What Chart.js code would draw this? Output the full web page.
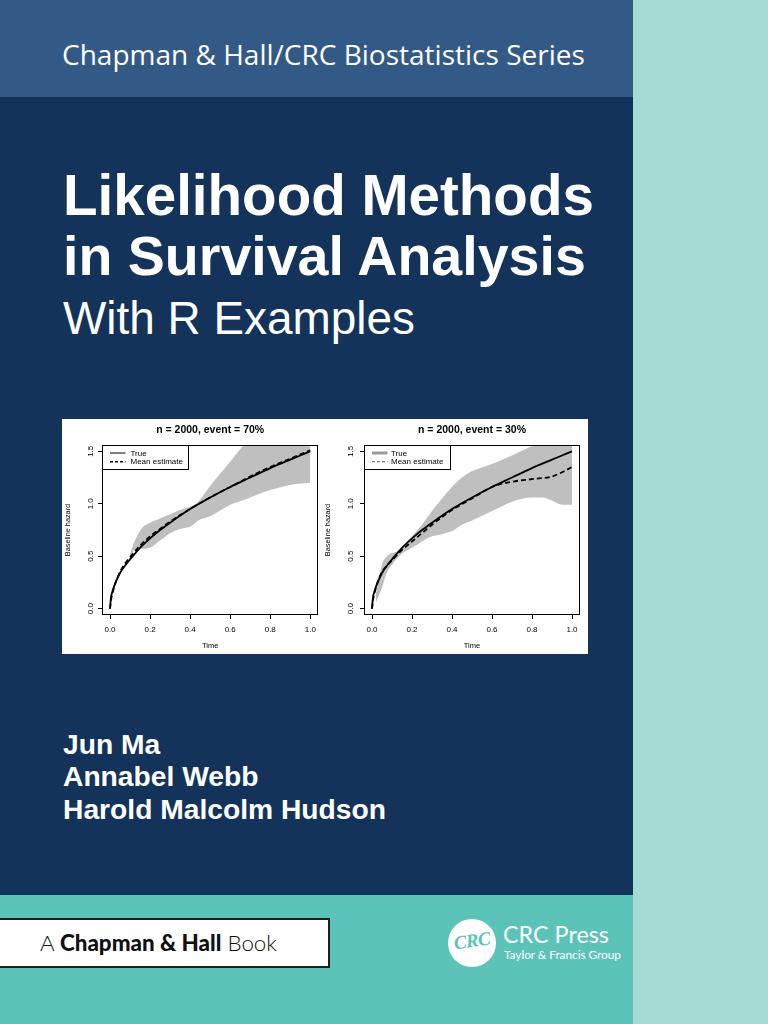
<!DOCTYPE html>
<html><head><meta charset="utf-8">
<script src="https://cdn.jsdelivr.net/npm/chart.js@4.4.0/dist/chart.umd.min.js"></script>
<style>
html,body{margin:0;padding:0;width:768px;height:1024px;overflow:hidden;background:#a5dbd3;}
#cover{position:absolute;left:0;top:0;width:633px;height:1024px;background:#13335a;}
#header{position:absolute;left:0;top:0;width:633px;height:97px;background:#335a86;}
#bottom{position:absolute;left:0;top:895px;width:633px;height:129px;background:#5cc3b8;}
.t{position:absolute;white-space:nowrap;color:#fff;line-height:1;top:0;}
.sans{font-family:"Liberation Sans",Arial,sans-serif;}
.open{font-family:"Open Sans","Noto Sans",sans-serif;}
.lato{font-family:Lato,sans-serif;}
#panel{position:absolute;left:62px;top:419px;width:526px;height:235px;background:#fff;}
.cw{position:absolute;top:419px;height:235px;}
#bookbox{position:absolute;left:-3px;top:918px;width:329px;height:46px;background:#fff;border:2.5px solid #1e1e1e;}
#logo{position:absolute;left:448px;top:919px;width:48px;height:48px;border-radius:50%;background:#fff;}
#logo span{position:absolute;left:0;top:11px;width:48px;text-align:center;font-family:"Liberation Serif",serif;font-weight:bold;font-style:italic;font-size:19px;color:#5cc3b8;transform:rotate(-8deg);letter-spacing:-0.5px;}
</style>
</head>
<body>
<div id="cover"></div>
<div id="header"></div>
<div id="bottom"></div>

<div class="t open" id="series" data-x="62" data-b="65" data-w="523" style="font-size:24px;">Chapman &amp; Hall/CRC Biostatistics Series</div>
<div class="t sans" id="title1" data-x="63" data-b="215" data-w="531" style="font-size:54px;font-weight:bold;">Likelihood Methods</div>
<div class="t sans" id="title2" data-x="63" data-b="275" data-w="523" style="font-size:54px;font-weight:bold;">in Survival Analysis</div>
<div class="t sans" id="subtitle" data-x="63" data-b="334" data-w="352" style="font-size:44px;">With R Examples</div>

<div class="t sans" id="a1" data-x="63" data-b="754" style="font-size:27px;font-weight:bold;">Jun Ma</div>
<div class="t sans" id="a2" data-x="63" data-b="786" style="font-size:27px;font-weight:bold;">Annabel Webb</div>
<div class="t sans" id="a3" data-x="63" data-b="819" data-w="323" style="font-size:27px;font-weight:bold;">Harold Malcolm Hudson</div>

<div id="panel"></div>
<div class="cw" style="left:62px;width:260px;"><canvas id="c70"></canvas></div>
<div class="cw" style="left:322px;width:266px;"><canvas id="c30"></canvas></div>

<div id="bookbox"></div>
<div class="t lato" id="book" data-x="40" data-b="951" data-w="237" style="font-size:22px;color:#111;font-weight:300;">A <span style="font-weight:900;">Chapman &amp; Hall</span> Book</div>
<div id="logo"><span>CRC</span></div>
<div class="t lato" id="crc" data-x="503" data-b="942.5" data-w="106" style="font-size:21px;font-weight:400;">CRC Press</div>
<div class="t lato" id="tf" data-x="504" data-b="959" data-w="117" style="font-size:11px;">Taylor &amp; Francis Group</div>

<script>
// ---------------- data ----------------
const xTickValues = [0, 0.2, 0.4, 0.6, 0.8, 1.0];
const yTickValues = [0, 0.5, 1.0, 1.5];
const chartTitles = ["n = 2000, event = 70%", "n = 2000, event = 30%"];
const seriesNames = ["True", "Mean estimate"];

const timeGrid    = [0, 0.005, 0.01, 0.02, 0.03, 0.05, 0.075, 0.1, 0.15, 0.2, 0.25, 0.3, 0.4, 0.5, 0.6, 0.7, 0.8, 0.9, 0.95, 1.0];
const trueHazard  = [0, 0.11, 0.15, 0.21, 0.26, 0.34, 0.41, 0.47, 0.58, 0.67, 0.75, 0.82, 0.95, 1.06, 1.16, 1.25, 1.34, 1.42, 1.46, 1.5];
const mean70      = [0, 0.08, 0.13, 0.20, 0.26, 0.35, 0.43, 0.49, 0.60, 0.69, 0.76, 0.83, 0.95, 1.06, 1.16, 1.26, 1.35, 1.43, 1.47, 1.51];
const mean30      = [0, 0.08, 0.13, 0.20, 0.26, 0.35, 0.41, 0.46, 0.56, 0.64, 0.72, 0.80, 0.94, 1.05, 1.16, 1.21, 1.235, 1.26, 1.30, 1.35];

const band70Time  = [0.10, 0.12, 0.16, 0.20, 0.25, 0.30, 0.35, 0.41, 0.44, 0.50, 0.60, 0.66, 0.70, 0.80, 0.90, 1.00];
const band70Upper = [0.52, 0.63, 0.77, 0.82, 0.86, 0.90, 0.94, 0.98, 1.02, 1.17, 1.40, 1.54, 1.62, 1.72, 1.82, 1.90];
const band70Lower = [0.46, 0.56, 0.57, 0.58, 0.65, 0.72, 0.76, 0.79, 0.84, 0.88, 0.99, 1.03, 1.06, 1.13, 1.18, 1.20];

const band30Time  = [0.02, 0.05, 0.075, 0.10, 0.13, 0.17, 0.20, 0.25, 0.30, 0.35, 0.40, 0.45, 0.50, 0.60, 0.70, 0.80, 0.85, 0.90, 0.95, 1.00];
const band30Upper = [0.15, 0.42, 0.50, 0.53, 0.55, 0.62, 0.69, 0.80, 0.93, 1.05, 1.16, 1.25, 1.31, 1.38, 1.46, 1.55, 1.60, 1.65, 1.70, 1.75];
const band30Lower = [0.06, 0.20, 0.35, 0.42, 0.49, 0.55, 0.58, 0.64, 0.69, 0.71, 0.74, 0.80, 0.84, 0.93, 1.02, 1.06, 1.06, 1.03, 0.99, 0.99];

// ---------------- text placement ----------------
function fitAndPlace(el, fsOverride){
  el.style.left = el.dataset.x + 'px';
  el.style.top = '0px';
  if (fsOverride) el.style.fontSize = fsOverride + 'px';
  if (el.dataset.w){
    const cur = el.getBoundingClientRect().width;
    const fs = parseFloat(getComputedStyle(el).fontSize);
    el.style.fontSize = (fs * (+el.dataset.w) / cur) + 'px';
  }
  const probe = document.createElement('span');
  probe.style.cssText = 'display:inline-block;width:0;height:0;';
  el.appendChild(probe);
  const off = probe.getBoundingClientRect().top - el.getBoundingClientRect().top;
  el.removeChild(probe);
  el.style.top = (+el.dataset.b - off) + 'px';
  return parseFloat(getComputedStyle(el).fontSize);
}
fitAndPlace(document.getElementById('title1'));
fitAndPlace(document.getElementById('title2'));
fitAndPlace(document.getElementById('subtitle'));
const fsAuth = fitAndPlace(document.getElementById('a3'));
fitAndPlace(document.getElementById('a1'), fsAuth);
fitAndPlace(document.getElementById('a2'), fsAuth);
['series','book','crc','tf'].forEach(id => fitAndPlace(document.getElementById(id)));

// ---------------- charts ----------------
Chart.defaults.font.family = '"Liberation Sans", Arial, sans-serif';
Chart.defaults.color = '#000';

const toPts = (xs, ys) => xs.map((x, i) => ({x: x, y: ys[i]}));

const rBox = {
  id: 'rBox',
  afterDatasetsDraw(chart){
    const {ctx, chartArea: a} = chart;
    ctx.save();
    ctx.strokeStyle = '#000'; ctx.lineWidth = 1;
    ctx.strokeRect(Math.round(a.left) + 0.5, Math.round(a.top) + 0.5, Math.round(a.width) - 1, Math.round(a.height) - 1);
    ctx.restore();
  }
};
const rLegend = {
  id: 'rLegend',
  afterDraw(chart, args, opts){
    const {ctx, chartArea: a} = chart;
    const x = Math.round(a.left) + 0.5, y = Math.round(a.top) + 0.5;
    ctx.save();
    ctx.fillStyle = '#fff'; ctx.fillRect(x, y, opts.width, opts.height);
    ctx.strokeStyle = '#000'; ctx.lineWidth = 1; ctx.strokeRect(x, y, opts.width, opts.height);
    opts.styles.forEach((st, i) => {
      const ds = chart.data.datasets[i];
      const ly = y + opts.firstY + i * opts.gap;
      ctx.strokeStyle = st.color; ctx.lineWidth = st.width; ctx.setLineDash(st.dash || []);
      ctx.beginPath(); ctx.moveTo(x + 7.5, ly); ctx.lineTo(x + 23, ly); ctx.stroke();
      ctx.setLineDash([]);
      ctx.fillStyle = '#000'; ctx.font = '8px "Liberation Sans", Arial, sans-serif';
      ctx.textBaseline = 'middle'; ctx.textAlign = 'left';
      ctx.fillText(ds.label, x + opts.textX, ly + 0.5);
    });
    ctx.restore();
  }
};

function makeChart(id, title, mean, bT, bU, bL, cfg){
  return new Chart(document.getElementById(id), {
    type: 'line',
    data: {
      datasets: [
        {label: seriesNames[0], data: toPts(timeGrid, trueHazard), borderColor: '#000', borderWidth: 1.8, pointRadius: 0, fill: false, cubicInterpolationMode: 'monotone'},
        {label: seriesNames[1], data: toPts(timeGrid, mean), borderColor: '#000', borderWidth: 1.8, borderDash: [5, 3], pointRadius: 0, fill: false, cubicInterpolationMode: 'monotone'},
        {label: 'upper', data: toPts(bT, bU), borderWidth: 0, borderColor: 'rgba(0,0,0,0)', backgroundColor: '#bfbfbf', pointRadius: 0, fill: '+1', cubicInterpolationMode: 'monotone'},
        {label: 'lower', data: toPts(bT, bL), borderWidth: 0, borderColor: 'rgba(0,0,0,0)', pointRadius: 0, fill: false, cubicInterpolationMode: 'monotone'}
      ]
    },
    options: {
      responsive: true, maintainAspectRatio: false, animation: false,
      layout: {padding: {left: 0, right: cfg.padRight, top: 0, bottom: 0}},
      plugins: {
        legend: {display: false},
        tooltip: {enabled: false},
        title: {display: true, text: title, fullSize: false, font: {size: 10.5, weight: 'bold'}, color: '#000', padding: {top: 4.7, bottom: 8.7}},
        rLegend: {width: 86, height: 24, firstY: 7.5, gap: 8.7, textX: cfg.legTextX, styles: cfg.legStyles}
      },
      scales: {
        x: {
          type: 'linear', min: -0.04, max: 1.04,
          afterBuildTicks: s => { s.ticks = xTickValues.map(v => ({value: v})); },
          afterFit: s => { s.height = 39; },
          border: {display: false},
          grid: {drawOnChartArea: false, drawTicks: true, tickLength: 4, color: '#000', lineWidth: 1},
          ticks: {font: {size: 8}, padding: 6, maxRotation: 0, callback: v => Number(v).toFixed(1)},
          title: {display: true, text: 'Time', font: {size: 7.5}, padding: {top: 0, bottom: 3.8}}
        },
        y: {
          type: 'linear', min: -0.06, max: 1.56,
          afterBuildTicks: s => { s.ticks = yTickValues.map(v => ({value: v})); },
          afterFit: s => { s.width = cfg.yWidth; },
          border: {display: false},
          grid: {drawOnChartArea: false, drawTicks: true, tickLength: 4, color: '#000', lineWidth: 1},
          ticks: {font: {size: 8}, padding: cfg.yPad, minRotation: 90, maxRotation: 90, crossAlign: 'center', callback: v => Number(v).toFixed(1)},
          title: {display: true, text: 'Baseline hazard', font: {size: 7.3}, padding: {top: 1.6, bottom: 0}}
        }
      }
    },
    plugins: [rBox, rLegend]
  });
}

makeChart('c70', chartTitles[0], mean70, band70Time, band70Upper, band70Lower, {
  padRight: 3, yWidth: 40, yPad: 2, legTextX: 28,
  legStyles: [{color: '#000', width: 1}, {color: '#000', width: 1.4, dash: [3, 2]}]
});
makeChart('c30', chartTitles[1], mean30, band30Time, band30Upper, band30Lower, {
  padRight: 8, yWidth: 42, yPad: 4, legTextX: 26.5,
  legStyles: [{color: '#9a9a9a', width: 3}, {color: '#555', width: 1, dash: [3, 2]}]
});
</script>
</body></html>
